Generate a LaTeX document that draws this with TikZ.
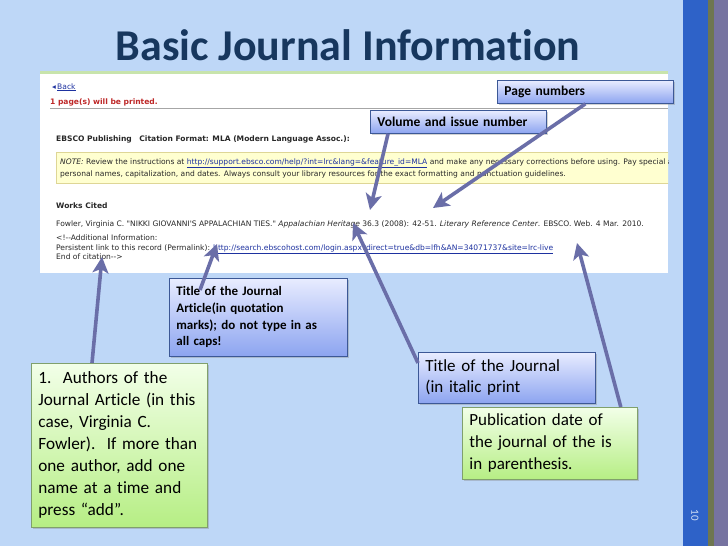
\documentclass[tikz,border=0pt]{standalone}
\usepackage{fontspec}
\setmainfont{Carlito}[Ligatures=NoCommon, RawFeature={-liga;-clig;-calt}]
\newfontfamily\shotfont{DejaVu Sans}
\usetikzlibrary{positioning,shadows,arrows.meta}

\definecolor{slidebg}{RGB}{190,215,247}
\definecolor{titleclr}{RGB}{23,55,94}
\definecolor{stripeblue}{RGB}{46,98,200}
\definecolor{stripeolive}{RGB}{110,118,80}
\definecolor{stripegray}{RGB}{118,115,160}
\definecolor{rulegreen}{RGB}{200,228,172}
\definecolor{shottext}{RGB}{40,40,40}
\definecolor{linkclr}{RGB}{30,50,160}
\definecolor{printred}{RGB}{190,40,40}
\definecolor{notefill}{RGB}{255,255,208}
\definecolor{noteedge}{RGB}{222,214,150}
\definecolor{bluetop}{RGB}{232,236,255}
\definecolor{bluebot}{RGB}{140,164,240}
\definecolor{blueedge}{RGB}{60,88,150}
\definecolor{greentop}{RGB}{242,255,232}
\definecolor{greenbot}{RGB}{182,238,132}
\definecolor{greenedge}{RGB}{128,160,108}
\definecolor{pointerclr}{RGB}{106,110,168}
\definecolor{pagenoclr}{RGB}{210,224,245}

\tikzset{
  shotline/.style={anchor=base west, inner sep=0pt, text=shottext,
    font=\shotfont\fontsize{7.55}{8}\selectfont},
  bluebox/.style={draw=blueedge, line width=0.8pt, top color=bluetop, bottom color=bluebot,
    drop shadow={opacity=0.35, shadow xshift=1.5pt, shadow yshift=-2pt},
    anchor=north west, inner xsep=7pt, inner ysep=0pt, align=left, text=black},
  greenbox/.style={draw=greenedge, line width=0.8pt, top color=greentop, bottom color=greenbot,
    drop shadow={opacity=0.35, shadow xshift=1.5pt, shadow yshift=-2pt},
    anchor=north west, inner xsep=7pt, inner ysep=0pt, align=left, text=black},
  pointer/.style={draw=pointerclr, line width=3.6pt,
    -{Stealth[length=16pt, width=16pt, inset=4pt]}}
}

\begin{document}
\begin{tikzpicture}[x=1pt, y=-1pt]
  \useasboundingbox (0,0) rectangle (728,546);

  % slide background and right stripes
  \fill[slidebg] (0,0) rectangle (728,546);
  \fill[stripeblue] (683,0) rectangle (708,546);
  \fill[stripeolive] (708,0) rectangle (714,546);
  \fill[stripegray] (714,0) rectangle (728,546);
  \node[rotate=-90, font=\fontsize{11}{11}\selectfont, text=pagenoclr] (pageno) at (695,515) {10};

  % title
  \node[anchor=base, inner sep=0pt, text=titleclr, font=\fontsize{44}{46}\selectfont\bfseries]
    (title) at (348,60) {Basic Journal Information};

  % screenshot of the citation page
  \draw[rulegreen, line width=3pt] (40,72) -- (668,72);
  \fill[white] (40,73.5) rectangle (668,273);
  \begin{scope}
    \clip (40,73.5) rectangle (668,273);
    \node[shotline, text=linkclr] (back) at (52,89) {◂\,\underline{Back}};
    \node[shotline, text=printred] (printed) at (50,104) {\bfseries 1 page(s) will be printed.};
    \draw[gray!70, line width=0.6pt] (50,108) -- (668,108);
    \node[shotline] (citefmt) at (56,141)
      {\bfseries EBSCO Publishing\quad Citation Format: MLA (Modern Language Assoc.):};
    \draw[noteedge, fill=notefill, line width=0.6pt] (56,152) rectangle (690,183);
    \node[shotline] (noteA) at (60,164) {\itshape NOTE:\upshape{} Review the instructions at
      \textcolor{linkclr}{\underline{http://support.ebsco.com/help/?int=lrc\&lang=\&feature\_id=MLA}}
      and make any necessary corrections before using. Pay special attention to};
    \node[shotline] (noteB) at (60,176) {personal names, capitalization, and dates. Always
      consult your library resources for the exact formatting and punctuation guidelines.};
    \node[shotline] (workscited) at (56,208) {\bfseries Works Cited};
    \node[shotline] (citation) at (56,226) {Fowler, Virginia C. "NIKKI GIOVANNI'S APPALACHIAN
      TIES." \itshape Appalachian Heritage\upshape{} 36.3 (2008): 42-51. \itshape Literary
      Reference Center\upshape. EBSCO. Web. 4 Mar. 2010.};
    \node[shotline] (addinfo) at (56,240) {<!--Additional Information:};
    \node[shotline] (permalink) at (56,250) {Persistent link to this record (Permalink):
      \textcolor{linkclr}{\underline{http://search.ebscohost.com/login.aspx?direct=true\&db=lfh\&AN=34071737\&site=lrc-live}}};
    \node[shotline] (endcite) at (56,259) {End of citation-->};
  \end{scope}

  % callouts
  \node[bluebox, minimum width=176pt, minimum height=23pt, text width=162pt,
    font=\fontsize{13.5}{16}\selectfont\bfseries] (pagenum) at (497,80) {Page numbers};
  \node[bluebox, minimum width=176pt, minimum height=23pt, text width=162pt,
    font=\fontsize{13.5}{16}\selectfont\bfseries] (volume) at (370,110) {Volume and issue number};
  \node[bluebox, minimum width=178pt, minimum height=78pt, text width=164pt,
    font=\fontsize{13}{16.7}\selectfont\bfseries] (article) at (169,278)
    {Title of the Journal\\ Article(in quotation\\ marks); do not type in as\\ all caps!};
  \node[greenbox, minimum width=176pt, minimum height=164pt, text width=162pt,
    font=\fontsize{17.2}{22}\selectfont] (authors) at (31,363)
    {1.\ \ Authors of the\\ Journal Article (in this\\ case, Virginia C.\\ Fowler).\ \ If more than\\
     one author, add one\\ name at a time and\\ press “add”.};
  \node[bluebox, minimum width=177pt, minimum height=51pt, text width=163pt,
    font=\fontsize{17}{21}\selectfont] (journal) at (418,352)
    {Title of the Journal\\ (in italic print};
  \node[greenbox, minimum width=175pt, minimum height=72pt, text width=161pt,
    font=\fontsize{17}{22}\selectfont] (pubdate) at (462,407)
    {Publication date of\\ the journal of the is\\ in parenthesis.};

  % arrow tips
  \coordinate (tipauth) at (102,257);
  \coordinate (tiptitle) at (217,244);
  \coordinate (tipjour) at (353,223);
  \coordinate (tipvol) at (370,210);
  \coordinate (tippage) at (433,208);
  \coordinate (tipdate) at (577,243);

  \draw[pointer] (pagenum.south) -- (tippage);
  \draw[pointer] ([xshift=18pt]volume.south west) -- (tipvol);
  \draw[pointer] ([xshift=31pt, yshift=-12pt]article.north west) -- (tiptitle);
  \draw[pointer] ([xshift=61pt]authors.north west) -- (tipauth);
  \draw[pointer] ([yshift=-11pt]journal.north west) -- (tipjour);
  \draw[pointer] ([xshift=-17pt]pubdate.north east) -- (tipdate);
\end{tikzpicture}
\end{document}
